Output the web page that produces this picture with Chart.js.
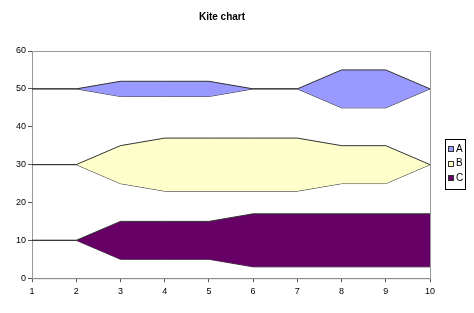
<!DOCTYPE html>
<html>
<head>
<meta charset="utf-8">
<script src="https://cdn.jsdelivr.net/npm/chart.js@4.4.1/dist/chart.umd.min.js"></script>
<style>
  body { margin: 0; background: #fff; }
  #wrap { width: 474px; height: 313px; position: relative; }
</style>
</head>
<body>
<div id="wrap"><canvas id="kiteChart"></canvas></div>
<script>
// kite chart data: half widths around each series centre line
const xValues = [1, 2, 3, 4, 5, 6, 7, 8, 9, 10];
const seriesNames = ['A', 'B', 'C'];
const centers = [50, 30, 10];
const widthsA = [0, 0, 2, 2, 2, 0, 0, 5, 5, 0];
const widthsB = [0, 0, 5, 7, 7, 7, 7, 5, 5, 0];
const widthsC = [0, 0, 5, 5, 5, 7, 7, 7, 7, 7];
const yTicks = [0, 10, 20, 30, 40, 50, 60];

const widths = [widthsA, widthsB, widthsC];
const fillColors = ['#9999ff', '#ffffcc', '#660066'];
const edgeColor = '#333333';

const datasets = [];
seriesNames.forEach(function (name, i) {
    datasets.push({
        label: name,
        data: xValues.map((x, j) => ({ x: x, y: centers[i] + widths[i][j] })),
        backgroundColor: fillColors[i],
        borderColor: edgeColor,
        fill: '+1'
    });
    datasets.push({
        label: name + '_low',
        data: xValues.map((x, j) => ({ x: x, y: centers[i] - widths[i][j] })),
        backgroundColor: fillColors[i],
        borderColor: edgeColor,
        fill: false
    });
});

const plotFrame = {
    id: 'plotFrame',
    beforeDatasetsDraw(chart) {
        const a = chart.chartArea;
        const ctx = chart.ctx;
        ctx.save();
        ctx.strokeStyle = '#999999';
        ctx.lineWidth = 1;
        ctx.strokeRect(a.left + 0.5, a.top + 0.5, a.right - a.left, a.bottom - a.top);
        ctx.restore();
    },
    afterDraw(chart) {
        // legend box on the right
        const a = chart.chartArea;
        const ctx = chart.ctx;
        const bx = Math.round(a.right) + 15;
        const by = 139;
        ctx.save();
        ctx.strokeStyle = '#000';
        ctx.lineWidth = 1;
        ctx.strokeRect(bx + 0.5, by + 0.5, 20, 50);
        ctx.font = '10px "Liberation Sans", Arial, sans-serif';
        ctx.textBaseline = 'middle';
        seriesNames.forEach(function (name, i) {
            const cy = by + 10 + i * 14.5;
            ctx.fillStyle = fillColors[i];
            ctx.fillRect(bx + 3.5, Math.round(cy) - 2.5, 5, 5);
            ctx.strokeStyle = '#333';
            ctx.strokeRect(bx + 3.5, Math.round(cy) - 2.5, 5, 5);
            ctx.fillStyle = '#000';
            ctx.fillText(name, bx + 11, cy);
        });
        ctx.restore();
    }
};

const ctx = document.getElementById('kiteChart').getContext('2d');
new Chart(ctx, {
    type: 'line',
    data: { datasets: datasets },
    plugins: [plotFrame],
    options: {
        responsive: true,
        maintainAspectRatio: false,
        animation: false,
        layout: { padding: { left: 14, right: 44, top: 0, bottom: 12 } },
        elements: {
            point: { radius: 0 },
            line: { tension: 0, borderWidth: 1 }
        },
        plugins: {
            legend: { display: false },
            tooltip: { enabled: false },
            title: {
                display: true,
                text: 'Kite chart',
                color: '#000',
                font: { family: '"Liberation Sans", Arial, sans-serif', size: 10, weight: 'bold' },
                padding: { top: 11, bottom: 28 }
            }
        },
        scales: {
            x: {
                type: 'linear',
                min: 1,
                max: 10,
                ticks: {
                    stepSize: 1,
                    color: '#000',
                    padding: 4,
                    maxRotation: 0,
                    font: { family: '"Liberation Sans", Arial, sans-serif', size: 9 }
                },
                grid: { drawOnChartArea: false, drawTicks: true, tickLength: 4, color: '#555' },
                border: { display: true, color: '#555' }
            },
            y: {
                min: 0,
                max: 60,
                afterBuildTicks(axis) { axis.ticks = yTicks.map(v => ({ value: v })); },
                ticks: {
                    color: '#000',
                    padding: 2,
                    font: { family: '"Liberation Sans", Arial, sans-serif', size: 9 }
                },
                grid: { drawOnChartArea: false, drawTicks: true, tickLength: 4, color: '#555' },
                border: { display: true, color: '#555' }
            }
        }
    }
});
</script>
</body>
</html>
